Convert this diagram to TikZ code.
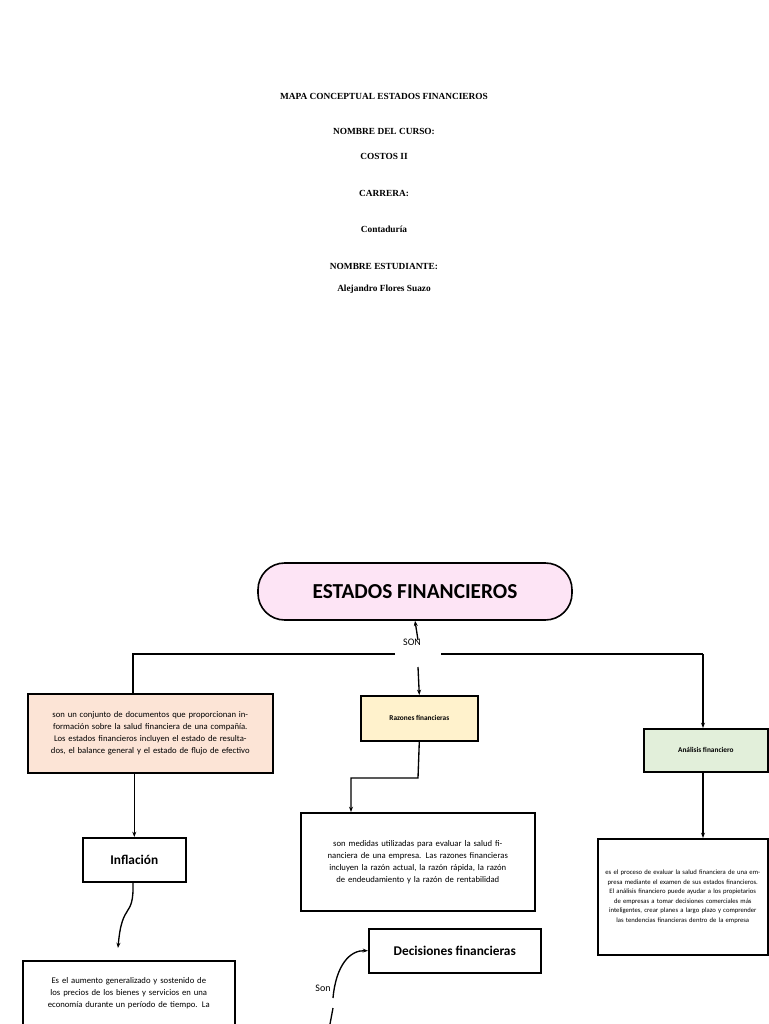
\documentclass[tikz,border=0pt]{standalone}
\usepackage{fontspec}
\setmainfont{Carlito}
\newfontfamily\serifb{Liberation Serif}
\usetikzlibrary{arrows.meta}
\definecolor{pinkf}{RGB}{253,228,245}
\definecolor{peachf}{RGB}{252,228,214}
\definecolor{yellf}{RGB}{255,242,204}
\definecolor{greenf}{RGB}{226,239,218}
\begin{document}
\begin{tikzpicture}[x=0.75pt,y=-0.75pt,
 bx/.style={draw,line width=1.2pt,align=center,inner sep=2pt,anchor=north west},
 hd/.style={font=\serifb\bfseries\fontsize{7}{8}\selectfont},
 ln/.style={line width=1pt},
 ar/.style={line width=1pt,-{Stealth[length=4pt,width=3pt]}}]
\useasboundingbox (0,0) rectangle (768,1024);
\fill[white] (0,0) rectangle (768,1024);
\node[hd] (h1) at (384,96) {MAPA CONCEPTUAL ESTADOS FINANCIEROS};
\node[hd] (h2) at (384,131) {NOMBRE DEL CURSO:};
\node[hd] (h3) at (384,156) {COSTOS II};
\node[hd] (h4) at (384,193) {CARRERA:};
\node[hd] (h5) at (384,229) {Contaduría};
\node[hd] (h6) at (384,266) {NOMBRE ESTUDIANTE:};
\node[hd] (h7) at (384,289) {Alejandro Flores Suazo};

\node[draw,line width=1.2pt,fill=pinkf,rounded corners=20pt,minimum width=314*0.75pt,minimum height=57*0.75pt,font=\bfseries\fontsize{16}{18}\selectfont] (t) at (415,591.5) {ESTADOS FINANCIEROS};
\node[bx,fill=peachf,minimum width=245*0.75pt,minimum height=79*0.75pt,text width=176pt,font=\fontsize{6.5}{9}\selectfont] (l) at (27,693) {son un conjunto de documentos que proporcionan información sobre la salud financiera de una compañía. Los estados financieros incluyen el estado de resultados, el balance general y el estado de flujo de efectivo};
\node[bx,fill=yellf,minimum width=117*0.75pt,minimum height=45*0.75pt,font=\bfseries\fontsize{5.5}{7}\selectfont] (r) at (360,695) {Razones financieras};
\node[bx,fill=greenf,minimum width=124*0.75pt,minimum height=43*0.75pt,font=\bfseries\fontsize{5.5}{7}\selectfont] (a) at (643,728) {Análisis financiero};
\node[bx,minimum width=103*0.75pt,minimum height=44*0.75pt,font=\bfseries\fontsize{10}{12}\selectfont] (inf) at (82,837) {Inflación};
\node[bx,minimum width=234*0.75pt,minimum height=98*0.75pt,text width=165pt,font=\fontsize{6.5}{9}\selectfont] (rd) at (300,812) {son medidas utilizadas para evaluar la salud financiera de una empresa. Las razones financieras incluyen la razón actual, la razón rápida, la razón de endeudamiento y la razón de rentabilidad};
\node[bx,minimum width=170*0.75pt,minimum height=116*0.75pt,text width=118pt,font=\fontsize{5}{7.2}\selectfont] (ad) at (597,838) {es el proceso de evaluar la salud financiera de una empresa mediante el examen de sus estados financieros. El análisis financiero puede ayudar a los propietarios de empresas a tomar decisiones comerciales más inteligentes, crear planes a largo plazo y comprender las tendencias financieras dentro de la empresa};
\node[bx,minimum width=172*0.75pt,minimum height=44*0.75pt,font=\bfseries\fontsize{10}{12}\selectfont] (dec) at (368,928) {Decisiones financieras};
\node[bx,anchor=north west,minimum width=212*0.75pt,minimum height=80*0.75pt,text width=150pt,font=\fontsize{6.5}{9}\selectfont,text depth=30pt] (id) at (22,960) {Es el aumento generalizado y sostenido de los precios de los bienes y servicios en una economía durante un período de tiempo. La};

\node[font=\fontsize{7.5}{9}\selectfont] (son) at (412,642) {SON};
\node[font=\fontsize{7.5}{9}\selectfont] (son2) at (323,988) {Son};
\coordinate (jl) at (133,654); \coordinate (jr) at (703,654);
\coordinate (ja) at (395,654); \coordinate (jb) at (441,654);
\coordinate (s1) at (418,667);
\draw[ar] (418,640) -- (t.south);
\draw[ln] (ja) -- (jl) -- (l.north -| jl);
\draw[ln] (jb) -- (jr);
\draw[ar] (jr) -- (a.north -| jr);
\draw[ar] (s1) -- (r.north);
\draw[ar] (l.south -| inf.north) -- (inf.north);
\coordinate (b1) at (418,778); \coordinate (b2) at (351,778);
\draw[ar] (r.south) -- (b1) -- (b2) -- (rd.north -| b2);
\draw[ar] (a.south -| 703,0) -- (ad.north -| 703,0);
\coordinate (c1) at (118,948);
\draw[ar] (inf.south -| 133,0) .. controls (134,920) and (122,900) .. (c1);
\coordinate (d1) at (333,998);
\draw[ar] (d1) .. controls (336,965) and (350,950) .. (dec.west);
\coordinate (d2) at (333,1008); \coordinate (d3) at (330,1024);
\draw[ln] (d2) -- (d3);
\end{tikzpicture}
\end{document}
